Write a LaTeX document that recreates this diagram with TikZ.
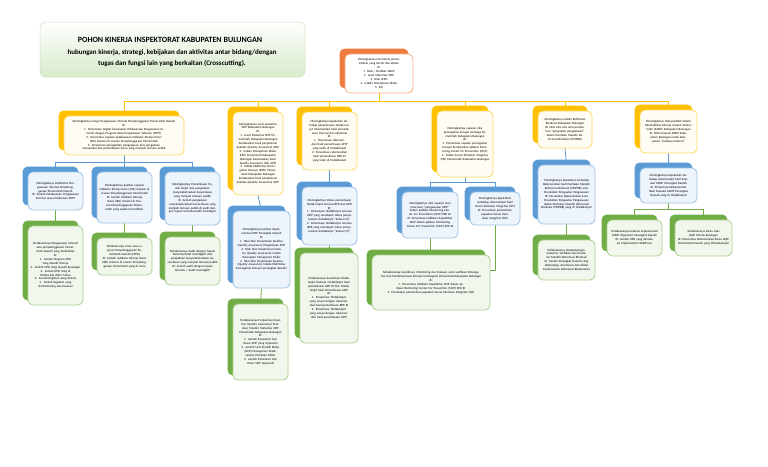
\documentclass[tikz,border=0pt]{standalone}
\usepackage{fontspec}
\setmainfont{Carlito}
\pgfdeclarelayer{base}\pgfdeclarelayer{bg}\pgfdeclarelayer{sh}\pgfsetlayers{base,bg,sh,main}
\definecolor{gold}{HTML}{FFC000}
\definecolor{goldb}{HTML}{FFD966}
\definecolor{goldf}{HTML}{FFFDF3}
\definecolor{blu}{HTML}{5B9BD5}
\definecolor{blub}{HTML}{9DC3E6}
\definecolor{bluf}{HTML}{EEF4FB}
\definecolor{grn}{HTML}{70AD47}
\definecolor{grnb}{HTML}{A9D18E}
\definecolor{grnf}{HTML}{F2F7EE}
\definecolor{orn}{HTML}{F07B3F}
\definecolor{ornb}{HTML}{F4B183}
\definecolor{ttlg}{HTML}{D8EACB}
\newcommand\tf{\fontsize{3.1}{3.9}\selectfont}
\newcommand\bx[8]{%
  \pgfmathsetmacro\bw{#5-#3}\pgfmathsetmacro\bh{#6-#4}\pgfmathsetmacro\tw{#5-#3-5}%
  \node[#1, minimum width=\bw pt, minimum height=\bh pt, text width=\tw pt] (#2) at ({(#3+#5)/2},{(#4+#6)/2}) {#8};
  \begin{pgfonlayer}{sh}
  \fill[#7, rounded corners=5pt] ([shift={(-5,-5)}]#2.north west) rectangle ([shift={(-5,-5)}]#2.south east);
  \end{pgfonlayer}}
\tikzset{
  box/.style={draw, line width=0.8pt, rounded corners=5pt, align=center, inner xsep=1.5pt, inner ysep=1pt, font=\tf},
  obox/.style={box, draw=ornb, fill=white},
  ybox/.style={box, draw=goldb, fill=goldf},
  bbox/.style={box, draw=blub, fill=bluf},
  gbox/.style={box, draw=grnb, fill=grnf},
  yl/.style={draw=gold, line width=0.8pt},
  bl/.style={draw=blu, line width=0.8pt},
  gl/.style={draw=grn, line width=0.8pt},
}
\begin{document}
\begin{tikzpicture}[x=1pt,y=-1pt]
\useasboundingbox (0,0) rectangle (768,466);
\begin{pgfonlayer}{base}
\fill[white] (0,0) rectangle (768,466);
\end{pgfonlayer}
% title panel
\path[draw=grnb!60, line width=0.5pt, top color=white, bottom color=ttlg, rounded corners=6pt] (40,22) rectangle (305,77);
\node[font=\fontsize{8}{9}\selectfont\bfseries] (ttl) at (170,40) {POHON KINERJA INSPEKTORAT KABUPATEN BULUNGAN};
\node[font=\fontsize{7}{10.2}\selectfont\bfseries, align=center, anchor=north] (sub) at (172,46.5) {hubungan kinerja, strategi, kebijakan dan aktivitas antar bidang/dengan\\tugas dan fungsi lain yang berkaitan (Crosscutting).};

% top
\bx{obox}{top}{345}{54}{413}{93}{orn}{Meningkatnya tata kelola pemerintahan yang bersih dan efisien\\IK:\\1. Nilai / Predikat SAKIP\\2. Level Maturitas SPIP\\3. Nilai LPPD\\4. Indeks Manajemen Risiko\\5. IPK}

% yellow row
\bx{ybox}{Y1}{64}{116}{184}{155}{gold}{Meningkatnya Fungsi Pengawasan Internal Penyelenggaraan Pemerintah Daerah\\IK:\\1. Persentase tingkat kesesuaian Pelaksanaan Pengawasan Internal dengan Program Kerja Pengawasan Tahunan (PKPT)\\2. Persentase capaian pelaksanaan Indikator Kinerja Kunci (IKK) instansi di Urusan Penyelenggaraan Pemerintah\\3. Persentase peningkatan pengawasan atas pengaduan masyarakat dan pemeriksaan kasus yang menjadi temuan publik}
\bx{ybox}{Y2}{233}{112}{283}{195}{gold}{Meningkatnya level maturitas SPIP Kabupaten Bulungan\\IK:\\1. Level Maturitas SPIP Pemerintah Kabupaten Bulungan berdasarkan hasil penjaminan kualitas (Quality Assurance) APIP\\2. Indeks Manajemen Risiko (MR) Pemerintah Kabupaten Bulungan berdasarkan hasil Quality Assurance oleh APIP\\3. Indeks Efektivitas Pencegahan Korupsi (IEPK) Pemerintah Kabupaten Bulungan berdasarkan hasil penjaminan kualitas (Quality Assurance) APIP}
\bx{ybox}{Y3}{302}{112}{357}{170}{gold}{Meningkatnya kepatuhan terhadap penyelesaian tindak lanjut rekomendasi hasil pemeriksaan internal dan eksternal\\IK:\\1. Persentase rekomendasi hasil pemeriksaan APIP yang telah di tindaklanjuti\\2. Persentase rekomendasi hasil pemeriksaan BPK RI yang telah di tindaklanjuti}
\bx{ybox}{Y4}{437}{111}{493}{177}{gold}{Meningkatnya capaian nilai pencegahan korupsi lembaga Pemerintah Kabupaten Bulungan\\IK:\\1. Persentase capaian pencegahan korupsi berdasarkan aplikasi Monitoring Center for Prevention (MCP)\\2. Indeks Survei Penilaian Integritas (SPI) Pemerintah Kabupaten Bulungan}
\bx{ybox}{Y5}{538}{111}{592}{148}{gold}{Meningkatnya Indeks Reformasi Birokrasi Kabupaten Bulungan\\IK: Nilai rata-rata area perubahan ``penguatan pengawasan'' dalam Penilaian Mandiri Reformasi Birokrasi (PMPRB)}
\bx{ybox}{Y6}{640}{110}{697}{153}{gold}{Meningkatnya nilai/predikat Sistem Akuntabilitas Kinerja Instansi Pemerintah (SAKIP) Kabupaten Bulungan\\IK: Nilai Evaluasi SAKIP Kabupaten Bulungan untuk komponen ``Evaluasi Internal''}

% group 1
\bx{bbox}{B1a}{28}{172}{83}{210}{blu}{Meningkatnya efektivitas Pengawasan Internal Penyelenggaraan Pemerintah Daerah\\IK: Jumlah Pelaksanaan Pengawasan Internal sesuai Dokumen PKPT}
\bx{bbox}{B1b}{97}{172}{152}{223}{blu}{Meningkatnya kualitas capaian Indikator Kinerja Kunci (IKK) instansi di urusan Penyelenggaraan Pemerintah\\IK: Jumlah Indikator Kinerja Kunci (IKK) instansi di Urusan Penyelenggaraan Pemerintah yang sudah terverifikasi}
\bx{bbox}{B1c}{165}{172}{220}{225}{blu}{Meningkatnya Pemeriksaan tindak lanjut atas pengaduan masyarakat/aduan kasus/kasus yang menjadi temuan publik\\IK: Jumlah pengaduan masyarakat/aduan kasus/kasus yang menjadi temuan publik di audit dengan tujuan tertentu/Audit Investigasi}
\bx{gbox}{G1a}{28}{226}{83}{305}{grn}{Terlaksananya Pengawasan Internal atas penyelenggaraan Pemerintah Daerah yang berkualitas\\IK:\\1. Jumlah Program OPD Yang diaudit Kinerja\\2. Jumlah OPD Yang diaudit Keuangan\\3. Jumlah OPD Yang di Periksa Kas Akhir Tahun\\4. Jumlah Kegiatan yang direviu\\5. Jumlah Kegiatan yang di Monitoring dan Evaluasi}
\bx{gbox}{G1b}{97}{238}{152}{275}{grn}{Terlaksananya reviu atas Laporan Penyelenggaraan Pemerintah Daerah (LPPD)\\IK: Jumlah Indikator Kinerja Kunci (IKK) instansi di urusan Penyelenggaraan Pemerintah yang di reviu}
\bx{gbox}{G1c}{165}{237}{220}{285}{grn}{Terlaksananya Audit dengan Tujuan Tertentu/Audit Investigatif atas pengaduan masyarakat/aduan kasus/kasus yang menjadi temuan publik\\IK: Jumlah audit dengan tujuan tertentu / Audit Investigatif}

% group 2
\bx{bbox}{B2}{233}{211}{290}{288}{blu}{Meningkatnya kualitas implementasi SPIP Perangkat Daerah\\IK:\\1. Nilai Skor Penjaminan Kualitas (Quality Assurance) Pengelolaan SPIP\\2. Nilai Skor Penjaminan Kualitas (Quality Assurance) Indeks Penerapan Manajemen Risiko\\3. Nilai Skor Penjaminan Kualitas (Quality Assurance) Indeks Efektivitas Pencegahan Korupsi (perangkat daerah)}
\bx{gbox}{G2}{233}{304}{288}{380}{grn}{Terlaksananya Penjaminan Kualitas (Quality Assurance) Penilaian Mandiri Maturitas SPIP Pemerintah Kabupaten Bulungan\\IK:\\1. Jumlah Parameter Sub Unsur SPIP yang terpenuhi\\2. Jumlah Unit Pemilik Risiko (UPR) Manajemen Pelaksanaan Penilaian Risiko\\3. Jumlah Parameter Sub Unsur SPIP terpenuhi}

% group 3
\bx{bbox}{B3}{302}{187}{357}{245}{blu}{Meningkatnya Status pemantauan tindak lanjut temuan BPK dan APIP\\IK:\\1. Persentase tindaklanjut temuan APIP yang mendapat status penyelesaian tindaklanjut ``Selesai (S)''\\2. Persentase tindaklanjut temuan BPK yang mendapat status penyelesaian tindaklanjut ``Selesai (S)''}
\bx{gbox}{G3}{300}{253}{358}{343}{grn}{Terlaksananya koordinasi tindaklanjut Evaluasi Tindaklanjut hasil pemeriksaan BPK RI dan Tindaklanjut hasil Pemeriksaan APIP\\IK:\\1. Persentase Tindaklanjut yang sesuai dengan rekomendasi hasil pemeriksaan BPK RI\\2. Persentase Tindaklanjut yang sesuai dengan rekomendasi hasil pemeriksaan APIP}

% group 4
\bx{bbox}{B4a}{402}{192}{458}{238}{blu}{Meningkatnya nilai capaian area intervensi ``pengawasan APIP'' dalam aplikasi Monitoring Center For Prevention (MCP) KPK RI\\IK: Persentase indikator kapabilitas APIP dalam aplikasi Monitoring Center For Prevention (MCP) KPK RI}
\bx{bbox}{B4b}{470}{192}{520}{225}{blu}{Meningkatnya kepatuhan terhadap rekomendasi hasil Survei Penilaian Integritas (SPI)\\IK: Persentase pemenuhan pepadan Survei Penilaian Integritas (SPI)}
\bx{gbox}{G4}{372}{255}{490}{310}{grn}{Terlaksananya koordinasi, Monitoring dan Evaluasi serta verifikasi Pencegahan dan Pemberantasan Korupsi terintegrasi Pemerintah Kabupaten Bulungan\\IK:\\1. Persentase indikator kapabilitas APIP dalam aplikasi Monitoring Center For Prevention (MCP) KPK RI\\2. Persentase pemenuhan pepadan Survei Penilaian Integritas (SPI)}

% group 5
\bx{bbox}{B5}{538}{165}{595}{224}{blu}{Meningkatnya kepatuhan terhadap Rekomendasi hasil Penilaian Mandiri Reformasi Birokrasi (PMPRB) area Perubahan Penguatan Pengawasan\\IK: Persentase Rekomendasi Area Perubahan Penguatan Pengawasan dalam Penilaian Mandiri Reformasi Birokrasi (PMPRB) yang di tindaklanjuti}
\bx{gbox}{G5}{538}{240}{595}{280}{grn}{Terlaksananya Pendampingan, Asistensi, Verifikasi dan Penilaian Mandiri Reformasi Birokrasi\\IK: Jumlah Perangkat Daerah yang didampingi, diasistensi dan dinilai Implementasi Reformasi Birokrasinya}

% group 6
\bx{bbox}{B6}{640}{168}{697}{203}{blu}{Meningkatnya kepatuhan terhadap rekomendasi hasil Evaluasi SAKIP Perangkat Daerah\\IK: Persentase Rekomendasi Hasil Evaluasi SAKIP Perangkat Daerah yang di tindaklanjuti}
\bx{gbox}{G6a}{607}{220}{662}{256}{grn}{Terlaksananya Evaluasi Implementasi SAKIP Organisasi Perangkat Daerah\\IK: Jumlah OPD yang dievaluasi Implementasi SAKIP-nya}
\bx{gbox}{G6b}{675}{220}{732}{256}{grn}{Terlaksananya Reviu Atas LKjIP Pemda Bulungan\\IK: Persentase Rekomendasi Reviu LKjIP Pemerintah Daerah yang ditindaklanjuti}

\coordinate (ybus) at (0,101);
\coordinate (b1bus) at (0,162);
\coordinate (b4bus) at (0,182);
\coordinate (g6bus) at (0,209);
\coordinate (g4in) at (0,270);

\begin{pgfonlayer}{bg}
\draw[yl] (top.south) -- (top.south |- ybus);
\draw[yl] (Y1.north |- ybus) -- (Y6.north |- ybus);
\foreach \n in {Y1,Y2,Y3,Y4,Y5,Y6} \draw[yl] (\n.north |- ybus) -- (\n.north);
% group 1
\draw[bl] (Y1.south) -- (Y1.south |- b1bus);
\draw[bl] (B1a.north |- b1bus) -- (B1c.north |- b1bus);
\foreach \n in {B1a,B1b,B1c} \draw[bl] (\n.north |- b1bus) -- (\n.north);
\draw[gl] (B1a.south) -- (G1a.north);
\draw[gl] (B1b.south) -- (G1b.north);
\draw[gl] (B1c.south) -- (G1c.north);
% group 2, 3
\draw[bl] (Y2.south) -- (B2.north);
\draw[gl] (B2.south) -- (G2.north);
\draw[bl] (Y3.south) -- (B3.north);
\draw[gl] (B3.south) -- (G3.north);
% group 4
\draw[bl] (Y4.south) -- (Y4.south |- b4bus);
\draw[bl] (B4a.north |- b4bus) -- (B4b.north |- b4bus);
\draw[bl] (B4a.north |- b4bus) -- (B4a.north);
\draw[bl] (B4b.north |- b4bus) -- (B4b.north);
\draw[gl] (B4a.south) -- (B4a.south |- G4.north);
\draw[gl] (B4b.south) |- (G4.east |- g4in);
% group 5
\draw[bl] (Y5.south) -- (B5.north);
\draw[gl] (B5.south) -- (G5.north);
% group 6
\draw[bl] (Y6.south) -- (B6.north);
\draw[gl] (B6.south) -- (B6.south |- g6bus);
\draw[gl] (G6a.north |- g6bus) -- (G6b.north |- g6bus);
\draw[gl] (G6a.north |- g6bus) -- (G6a.north);
\draw[gl] (G6b.north |- g6bus) -- (G6b.north);
\end{pgfonlayer}
\end{tikzpicture}
\end{document}
